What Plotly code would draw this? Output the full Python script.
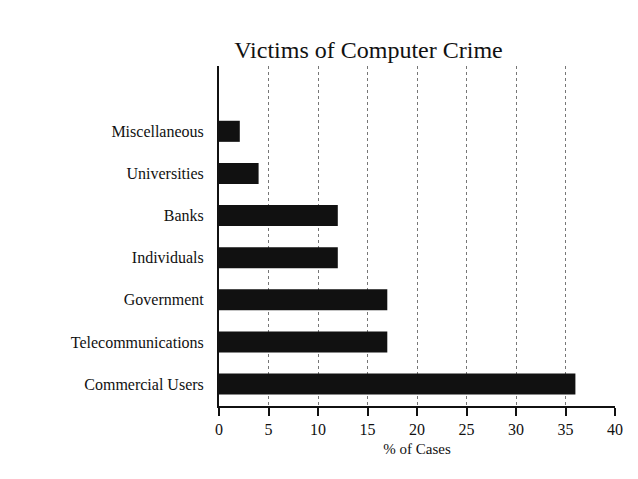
import plotly.graph_objects as go

categories = ["Commercial Users", "Telecommunications", "Government", "Individuals",
              "Banks", "Universities", "Miscellaneous"]
pct_cases = [36, 17, 17, 12, 12, 4, 2.1]
x_ticks = [0, 5, 10, 15, 20, 25, 30, 35, 40]

fig = go.Figure(go.Bar(
    x=pct_cases, y=categories, orientation="h",
    marker=dict(color="#111111", line=dict(width=0)),
))

fig.update_layout(
    width=638, height=479,
    paper_bgcolor="white", plot_bgcolor="white",
    margin=dict(l=211, r=31, t=58, b=81, autoexpand=False),
    title=dict(text="Victims of Computer Crime", x=0.565, y=0.93, xanchor="center",
               font=dict(family="Liberation Serif", size=24, color="#111111")),
    font=dict(family="Liberation Serif", size=16, color="#111111"),
    bargap=0.5,
    showlegend=False,
)
fig.update_xaxes(
    range=[0, 40], tickvals=x_ticks, ticks="outside", ticklen=8, tickwidth=1.5,
    tickcolor="#111111", showline=True, linecolor="#111111", linewidth=2,
    showgrid=True, gridcolor="#777777", griddash="dot", gridwidth=1,
    title=dict(text="% of Cases", font=dict(size=15), standoff=6), zeroline=False,
    automargin=False,
)
fig.update_yaxes(
    showline=True, linecolor="#111111", linewidth=2, ticks="", showgrid=False,
    range=[-0.52, 7.55], ticklabelstandoff=10, automargin=False,
)

fig.write_html("out.html")
